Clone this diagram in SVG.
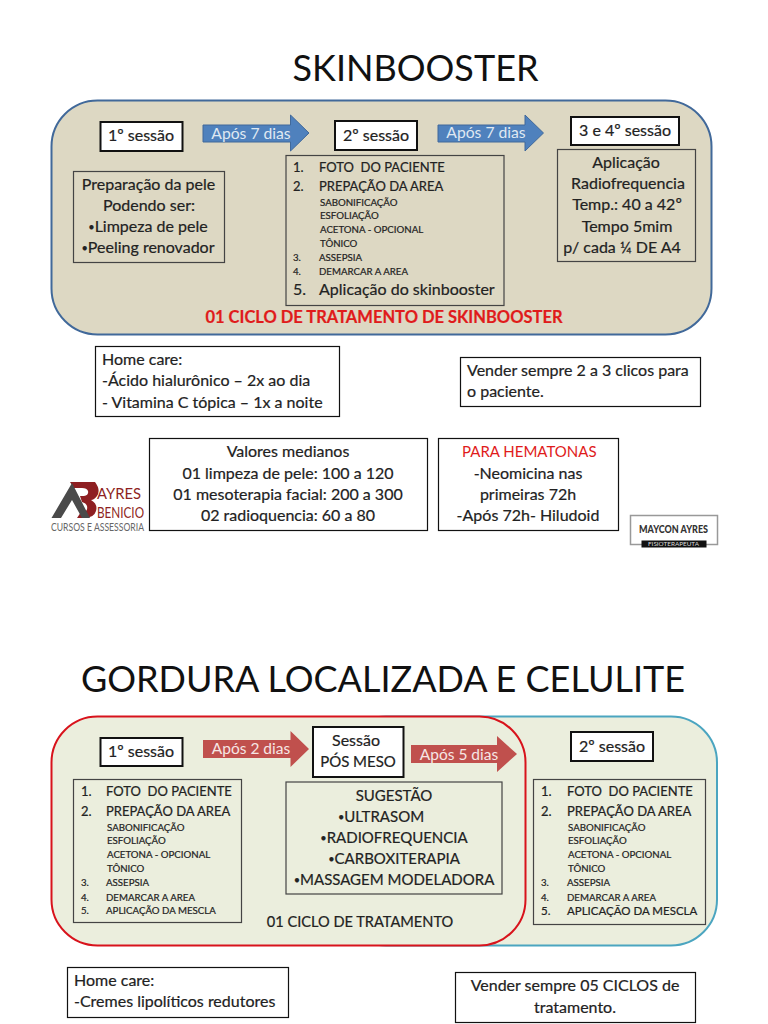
<svg xmlns="http://www.w3.org/2000/svg" width="768" height="1024" viewBox="0 0 768 1024">
<style>
text{font-family:Lato,"Liberation Sans",sans-serif;fill:#222;font-size:16px;stroke:#222;stroke-width:.2}
.m{text-anchor:middle}
.title{font-size:36px;fill:#111;stroke:none}
.box{fill:#fff;stroke:#111;stroke-width:1.2}
.sbox{fill:#fff;stroke:#111;stroke-width:2}
.lbox{fill:none;stroke:#444;stroke-width:1.2}
.c{font-size:15px}
.x{font-size:13px}
.y{font-size:11.500px}
.s{font-size:9.700px}
.b{font-size:11px}
.w{fill:#dfe8f2;font-size:15.700px;stroke:none}
.f{fill:#f6e6e4;font-size:15.500px;stroke:none}
.red{fill:#e01b1b;stroke:#e01b1b}
.lg{fill:#8e1f22;stroke:none}
</style>
<rect width="768" height="1024" fill="#fff"/>
<text class="title m" x="415.500" y="81">SKINBOOSTER</text>
<text class="title m" x="383" y="692">GORDURA LOCALIZADA E CELULITE</text>
<g id="panel1"><rect x="51.500" y="100.500" width="660" height="234" rx="46" fill="#ddd8c3" stroke="#41699a" stroke-width="2"/></g>
<g id="panel2"><rect x="340" y="716.500" width="377" height="229" rx="46" fill="#ebeedd" stroke="#4ba5c0" stroke-width="2"/>
<rect x="51.500" y="716.500" width="474" height="229" rx="46" fill="#ebeedd" stroke="#d8131c" stroke-width="2"/></g>
<g id="connectors">
<path d="M203 125H290.500V115L309 133L290.500 151V142H203Z" fill="#4f81bd" stroke="#41699a"/>
<path d="M438 125H525V115L543.500 133L525 151V142H438Z" fill="#4f81bd" stroke="#41699a"/>
<path d="M203 740H290.500V731L309 749L290.500 767V758H203Z" fill="#c0504d"/>
<path d="M411 745H497V736L517 754L497 772V763H411Z" fill="#c0504d"/>
</g>
<text class="w m" x="251" y="139">Após 7 dias</text>
<text class="w m" x="486" y="138">Após 7 dias</text>
<text class="f m" x="251" y="754">Após 2 dias</text>
<text class="f m" x="459" y="760">Após 5 dias</text>
<g id="s1"><rect class="sbox" x="100.500" y="122" width="82" height="29"/><text class="m" x="141" y="141">1º sessão</text></g>
<g id="s2"><rect class="sbox" x="335" y="121" width="82" height="29"/><text class="m" x="376" y="141">2º sessão</text></g>
<g id="s3"><rect class="sbox" x="571" y="117" width="108" height="28"/><text class="m" x="625" y="136">3 e 4º sessão</text></g>
<g id="prep"><rect class="lbox" x="73.500" y="171.500" width="151" height="91"/>
<text class="m" x="148.500" y="190">Preparação da pele</text>
<text class="m" x="149" y="211">Podendo ser:</text>
<text class="m" x="148" y="232"><tspan class="b" dy="-1">•</tspan><tspan dy="1">Limpeza de pele</tspan></text>
<text class="m" x="148" y="253"><tspan class="b" dy="-1">•</tspan><tspan dy="1">Peeling renovador</tspan></text></g>
<g id="list1"><rect class="lbox" x="286" y="155.500" width="218" height="150"/>
<text class="x" x="293" y="172">1.</text><text class="x" x="319" y="172">FOTO&#160; DO PACIENTE</text>
<text class="x" x="293" y="191">2.</text><text class="x" x="319" y="191">PREPAÇÃO DA AREA</text>
<text class="s" x="320" y="206">SABONIFICAÇÃO</text>
<text class="s" x="320" y="219">ESFOLIAÇÃO</text>
<text class="s" x="320" y="233">ACETONA - OPCIONAL</text>
<text class="s" x="320" y="247">TÔNICO</text>
<text class="s" x="293" y="261">3.</text><text class="s" x="319" y="261">ASSEPSIA</text>
<text class="s" x="293" y="275">4.</text><text class="s" x="319" y="275">DEMARCAR A AREA</text>
<text x="293" y="295">5.</text><text x="319" y="295">Aplicação do skinbooster</text></g>
<g id="aplic"><rect class="lbox" x="557.500" y="149.500" width="138" height="112"/>
<text class="m" x="626" y="168">Aplicação</text>
<text class="m" x="628" y="189">Radiofrequencia</text>
<text class="m" x="627" y="210">Temp.: 40 a 42º</text>
<text class="m" x="627" y="232">Tempo 5mim</text>
<text class="m" x="622" y="253">p/ cada ¼ DE A4</text></g>
<text class="m red" x="384" y="323" style="font-weight:700;font-size:16.500px">01 CICLO DE TRATAMENTO DE SKINBOOSTER</text>
<g id="home1"><rect class="box" x="95.500" y="346.500" width="244" height="70"/>
<text x="102" y="365">Home care:</text><text x="102" y="386">-Ácido hialurônico – 2x ao dia</text><text x="102" y="408">- Vitamina C tópica – 1x a noite</text></g>
<g id="vender1"><rect class="box" x="460.500" y="357.500" width="240" height="49"/>
<text x="467" y="376">Vender sempre 2 a 3 clicos para</text><text x="467" y="397">o paciente.</text></g>
<g id="valores"><rect class="box" x="149.500" y="438.500" width="278" height="92"/>
<text class="m" x="288" y="457">Valores medianos</text>
<text class="m" x="288" y="479">01 limpeza de pele: 100 a 120</text>
<text class="m" x="288" y="500">01 mesoterapia facial: 200 a 300</text>
<text class="m" x="288" y="521">02 radioquencia: 60 a 80</text></g>
<g id="hemato"><rect class="box" x="438.500" y="438.500" width="180" height="92"/>
<text class="c red" x="462" y="457" style="stroke-width:0">PARA HEMATONAS</text>
<text class="m" x="528" y="479">-Neomicina nas</text>
<text class="m" x="528" y="500">primeiras 72h</text>
<text class="m" x="528" y="521">-Após 72h- Hiludoid</text></g>
<g id="logo1">
<path d="M70 482H95Q101 490 97 496Q94 500 91 500Q98 504 96 511Q94 518 84 518H77L81 512H84Q88 511 87 506Q86 503 82 502L80 496H84Q89 495 88 491Q87 488 82 488H74Z" fill="#8e1f22"/>
<path d="M51.500 518L72 483L90 518H82L72 500L61 518Z" fill="#4a4a4a"/>
<text class="lg" x="97" y="499" textLength="44" lengthAdjust="spacingAndGlyphs" style="font-size:16px">AYRES</text>
<text class="lg" x="97" y="518" textLength="47" lengthAdjust="spacingAndGlyphs" style="font-size:16px">BENICIO</text>
<text x="51" y="531" textLength="93" lengthAdjust="spacingAndGlyphs" style="font-size:10.500px;fill:#666;stroke:none">CURSOS E ASSESSORIA</text>
</g>
<g id="logo2">
<rect x="630.500" y="515.500" width="87" height="29" fill="#fff" stroke="#999" stroke-width="1.500"/>
<text x="639" y="533" textLength="69" lengthAdjust="spacingAndGlyphs" style="font-size:11px;font-weight:900;fill:#333;stroke:none">MAYCON AYRES</text>
<rect x="641.500" y="540.500" width="65" height="7" fill="#111"/>
<text x="648" y="546" textLength="51" lengthAdjust="spacingAndGlyphs" style="font-size:5px;fill:#ddd;stroke:none">FISIOTERAPEUTA</text>
</g>
<g id="g1"><rect class="sbox" x="100.500" y="738" width="82" height="28"/><text class="m" x="141" y="757">1º sessão</text></g>
<g id="gp"><rect class="sbox" x="313" y="727" width="90.500" height="50"/><text class="m" x="356" y="746">Sessão</text><text class="m c" x="358" y="767">PÓS MESO</text></g>
<g id="g2"><rect class="sbox" x="571" y="732" width="82" height="29"/><text class="m" x="612" y="752">2º sessão</text></g>
<g id="list2"><rect class="lbox" x="73.500" y="779.500" width="168" height="143"/>
<text class="x" x="81" y="796">1.</text><text class="x" x="106" y="796">FOTO&#160; DO PACIENTE</text>
<text class="x" x="81" y="816">2.</text><text class="x" x="106" y="816">PREPAÇÃO DA AREA</text>
<text class="s" x="107" y="831">SABONIFICAÇÃO</text>
<text class="s" x="107" y="844">ESFOLIAÇÃO</text>
<text class="s" x="107" y="858">ACETONA - OPCIONAL</text>
<text class="s" x="107" y="872">TÔNICO</text>
<text class="s" x="81" y="886">3.</text><text class="s" x="106" y="886">ASSEPSIA</text>
<text class="s" x="81" y="901">4.</text><text class="s" x="106" y="901">DEMARCAR A AREA</text>
<text class="s" x="81" y="914">5.</text><text class="s" x="106" y="914">APLICAÇÃO DA MESCLA</text></g>
<g id="sug"><rect class="lbox" x="286" y="782" width="216" height="112"/>
<text class="m c" x="394" y="801">SUGESTÃO</text>
<text class="m c" x="381" y="822"><tspan class="b" dy="-1">•</tspan><tspan dy="1">ULTRASOM</tspan></text>
<text class="m c" x="394" y="843"><tspan class="b" dy="-1">•</tspan><tspan dy="1">RADIOFREQUENCIA</tspan></text>
<text class="m c" x="394" y="864"><tspan class="b" dy="-1">•</tspan><tspan dy="1">CARBOXITERAPIA</tspan></text>
<text class="m c" x="394" y="885"><tspan class="b" dy="-1">•</tspan><tspan dy="1">MASSAGEM MODELADORA</tspan></text></g>
<text class="m" x="360" y="927" style="font-size:14.600px">01 CICLO DE TRATAMENTO</text>
<g id="list3"><rect class="lbox" x="533.500" y="779.500" width="172" height="145"/>
<text class="x" x="541" y="796">1.</text><text class="x" x="567" y="796">FOTO&#160; DO PACIENTE</text>
<text class="x" x="541" y="816">2.</text><text class="x" x="567" y="816">PREPAÇÃO DA AREA</text>
<text class="s" x="568" y="831">SABONIFICAÇÃO</text>
<text class="s" x="568" y="844">ESFOLIAÇÃO</text>
<text class="s" x="568" y="858">ACETONA - OPCIONAL</text>
<text class="s" x="568" y="872">TÔNICO</text>
<text class="s" x="541" y="886">3.</text><text class="s" x="567" y="886">ASSEPSIA</text>
<text class="s" x="541" y="901">4.</text><text class="s" x="567" y="901">DEMARCAR A AREA</text>
<text class="y" x="541" y="915">5.</text><text class="y" x="567" y="915">APLICAÇÃO DA MESCLA</text></g>
<g id="home2"><rect class="box" x="67.500" y="967.500" width="221" height="50"/>
<text x="74" y="986">Home care:</text><text x="74" y="1007">-Cremes lipolíticos redutores</text></g>
<g id="vender2"><rect class="box" x="455.500" y="972.500" width="240" height="50"/>
<text class="m" x="575" y="991">Vender sempre 05 CICLOS de</text><text class="m" x="575" y="1013">tratamento.</text></g>
</svg>
